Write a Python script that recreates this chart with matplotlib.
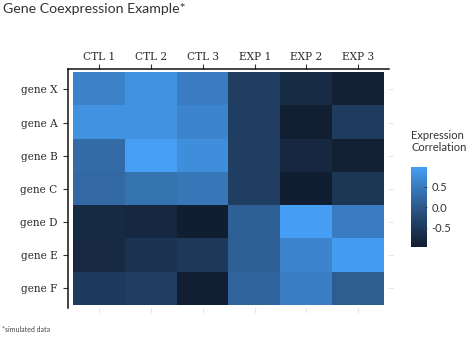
import numpy as np
import matplotlib
matplotlib.use("Agg")
import matplotlib.pyplot as plt
from matplotlib.colors import ListedColormap, Normalize, to_rgb

samples = ["CTL 1", "CTL 2", "CTL 3", "EXP 1", "EXP 2", "EXP 3"]
genes = ["gene X", "gene A", "gene B", "gene C", "gene D", "gene E", "gene F"]

# correlation per gene (rows) and sample (columns)
gene_x = [0.60, 0.83, 0.52, -0.41, -0.71, -0.88]
gene_a = [0.83, 0.81, 0.64, -0.41, -0.92, -0.43]
gene_b = [0.27, 0.99, 0.76, -0.41, -0.77, -0.90]
gene_c = [0.25, 0.37, 0.44, -0.41, -0.96, -0.53]
gene_d = [-0.73, -0.76, -0.95, 0.11, 0.98, 0.52]
gene_e = [-0.75, -0.59, -0.49, 0.11, 0.64, 0.96]
gene_f = [-0.45, -0.41, -0.92, 0.17, 0.56, 0.07]

corr = np.array([gene_x, gene_a, gene_b, gene_c, gene_d, gene_e, gene_f])


# gradient interpolated in CIE Lab
def srgb_to_lab(c):
    c = np.asarray(c, dtype=float)
    lin = np.where(c <= 0.04045, c / 12.92, ((c + 0.055) / 1.055) ** 2.4)
    m = np.array([[0.4124, 0.3576, 0.1805],
                  [0.2126, 0.7152, 0.0722],
                  [0.0193, 0.1192, 0.9505]])
    xyz = m @ lin / np.array([0.95047, 1.0, 1.08883])
    f = np.where(xyz > 0.008856, np.cbrt(xyz), 7.787 * xyz + 16 / 116)
    return np.array([116 * f[1] - 16, 500 * (f[0] - f[1]), 200 * (f[1] - f[2])])


def lab_to_srgb(lab):
    L, a, b = lab
    fy = (L + 16) / 116
    f = np.array([fy + a / 500, fy, fy - b / 200])
    xyz = np.where(f ** 3 > 0.008856, f ** 3, (f - 16 / 116) / 7.787)
    xyz = xyz * np.array([0.95047, 1.0, 1.08883])
    m = np.array([[3.2406, -1.5372, -0.4986],
                  [-0.9689, 1.8758, 0.0415],
                  [0.0557, -0.2040, 1.0570]])
    lin = m @ xyz
    c = np.where(lin <= 0.0031308, 12.92 * lin,
                 1.055 * np.clip(lin, 0, None) ** (1 / 2.4) - 0.055)
    return np.clip(c, 0, 1)


lo = srgb_to_lab(to_rgb("#111d30"))
hi = srgb_to_lab(to_rgb("#469ff5"))
cmap = ListedColormap([lab_to_srgb(lo + (hi - lo) * t) for t in np.linspace(0, 1, 256)])
norm = Normalize(vmin=corr.min(), vmax=corr.max())

fig = plt.figure(figsize=(4.74, 3.38), dpi=100)
ax = fig.add_axes([68.3 / 474, 1 - 308.4 / 338, 320.9 / 474, 239 / 338])

mesh = ax.imshow(corr, cmap=cmap, norm=norm, aspect="auto",
                 extent=(-0.5, 5.5, 6.5, -0.5), interpolation="nearest")

# faint ticks on the opposite sides
for x in range(len(samples)):
    ax.plot([x, x], [6.6, 6.72], color="#e6e6e6", lw=0.8, clip_on=False)
for y in range(len(genes)):
    ax.plot([5.6, 5.67], [y, y], color="#e6e6e6", lw=0.8, clip_on=False)

ax.set_xlim(-0.6, 5.6)
ax.set_ylim(6.6, -0.6)

ax.set_xticks(range(len(samples)))
ax.set_xticklabels(samples, family="DejaVu Serif", fontsize=7.6, color="#2a2a2a")
ax.set_yticks(range(len(genes)))
ax.set_yticklabels(genes, family="DejaVu Serif", fontsize=7.6, color="#2a2a2a")
ax.xaxis.tick_top()
ax.tick_params(axis="both", length=3.6, width=0.8, color="#333333")
ax.tick_params(axis="x", pad=1.5)
ax.tick_params(axis="y", pad=4)

for side in ["right", "bottom"]:
    ax.spines[side].set_visible(False)
for side in ["left", "top"]:
    ax.spines[side].set_linewidth(1.1)
    ax.spines[side].set_color("#111111")

cax = fig.add_axes([411 / 474, 1 - 246.7 / 338, 16 / 474, 80 / 338])
cb = fig.colorbar(mesh, cax=cax, ticks=[-0.5, 0.0, 0.5])
cb.outline.set_visible(False)
cb.ax.tick_params(length=3, width=0.6, color="#444444", direction="in",
                  labelsize=8, labelcolor="#333333", pad=3)
cb.ax.set_yticklabels(["-0.5", "0.0", "0.5"], family="Lato")

fig.text(411 / 474, 1 - 130 / 338, "Expression\nCorrelation", family="Lato",
         fontsize=8, color="#333333", va="top", ha="left", linespacing=1.1)

fig.text(3 / 474, 1 - 3 / 338, "Gene Coexpression Example*", family="Lato",
         fontsize=10.2, color="#333333", va="top", ha="left")
fig.text(2 / 474, 1 - 333 / 338, "*simulated data", family="Lato",
         fontsize=5, color="#444444", va="bottom", ha="left")

fig.savefig("out.png", dpi=100)
